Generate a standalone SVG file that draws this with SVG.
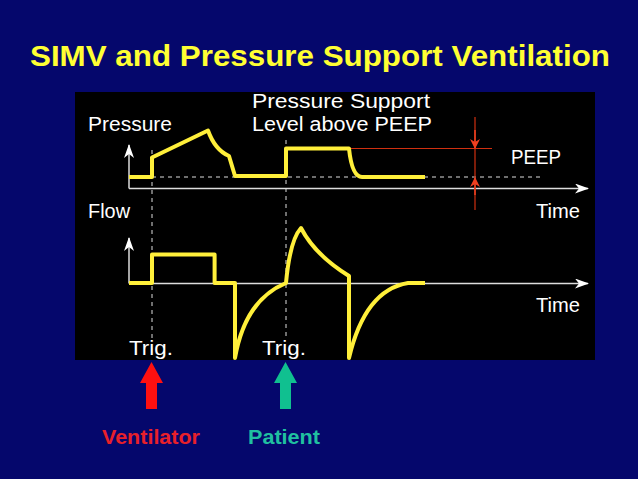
<svg xmlns="http://www.w3.org/2000/svg" width="638" height="479" viewBox="0 0 638 479">
<style>
.t{font-family:"Liberation Sans",Arial,sans-serif;fill:#fff;font-size:20px}
.tr{fill:none;stroke:#ffef3a;stroke-width:4;stroke-linejoin:round}
.ax{stroke:#ddd;stroke-width:1.5;fill:none}
.dash{stroke:#ddd;stroke-width:1;stroke-dasharray:4 4;fill:none}
.lb{font-family:"Liberation Sans",Arial,sans-serif;font-weight:bold;font-size:20px}
</style>
<defs>
<marker id="ah" markerWidth="14" markerHeight="10" refX="13" refY="5" orient="auto" markerUnits="userSpaceOnUse"><path d="M0,0 L14,5 L0,10 L4,5 Z" fill="#fff"/></marker>
<marker id="rh" markerWidth="10" markerHeight="10" refX="9" refY="5" orient="auto" markerUnits="userSpaceOnUse"><path d="M0,0 L10,5 L0,10 L3,5 Z" fill="#f04020"/></marker>
</defs>
<rect width="638" height="479" fill="#05076c"/>
<text x="30" y="66" textLength="580" lengthAdjust="spacingAndGlyphs" font-family="'Liberation Sans',Arial,sans-serif" font-weight="bold" font-size="30" fill="#ffff33">SIMV and Pressure Support Ventilation</text>
<g id="chart">
<rect x="75" y="92" width="520" height="268" fill="#000"/>
<text class="t" x="88" y="131" textLength="84" lengthAdjust="spacingAndGlyphs">Pressure</text>
<text class="t" x="252" y="108" textLength="178" lengthAdjust="spacingAndGlyphs">Pressure Support</text>
<text class="t" x="252" y="131" textLength="180" lengthAdjust="spacingAndGlyphs">Level above PEEP</text>
<text class="t" x="511" y="164" textLength="50" lengthAdjust="spacingAndGlyphs">PEEP</text>
<text class="t" x="536" y="218" textLength="44" lengthAdjust="spacingAndGlyphs">Time</text>
<text class="t" x="88" y="218" textLength="42" lengthAdjust="spacingAndGlyphs">Flow</text>
<text class="t" x="536" y="312" textLength="44" lengthAdjust="spacingAndGlyphs">Time</text>
<text class="t" x="129" y="355" textLength="44" lengthAdjust="spacingAndGlyphs">Trig.</text>
<text class="t" x="262" y="355" textLength="44" lengthAdjust="spacingAndGlyphs">Trig.</text>
</g>
<g id="connectors">
<line class="ax" x1="129" y1="188.5" x2="588" y2="188.5" marker-end="url(#ah)"/>
<line class="ax" x1="129" y1="188.5" x2="129" y2="145" marker-end="url(#ah)"/>
<line class="ax" x1="129" y1="283.5" x2="588" y2="283.5" marker-end="url(#ah)"/>
<line class="ax" x1="129" y1="283.5" x2="129" y2="238" marker-end="url(#ah)"/>
<line class="dash" x1="152" y1="177" x2="544" y2="177"/>
<line class="dash" x1="152" y1="150" x2="152" y2="340"/>
<line class="dash" x1="286" y1="140" x2="286" y2="340"/>
<line x1="349" y1="148.5" x2="492" y2="148.5" stroke="#d03010" stroke-width="1.2"/>
<line x1="475" y1="117" x2="475" y2="210" stroke="#d03010" stroke-width="1.2"/>
<line x1="475" y1="130" x2="475" y2="148" stroke="#f04020" stroke-width="1.5" marker-end="url(#rh)"/>
<line x1="475" y1="195" x2="475" y2="178" stroke="#f04020" stroke-width="1.5" marker-end="url(#rh)"/>
<path class="tr" d="M129,177 H152 V157.5 L208,130.5 Q215,150 229,156 L235,176 H286 V148.5 H349 Q352,177 362,177 H425"/>
<path class="tr" d="M129,283 H152 V254.5 H214.6 V283 H235 V358 Q245,300 286,283 Q290,240 301,228 Q315,255 349,276 V358 Q365,290 408,283 H425"/>
<path d="M146,409 V383 H140 L151.5,362 L163,383 H157 V409 Z" fill="#ff1010"/>
<path d="M280,409 V383 H274 L285.5,362 L297,383 H291 V409 Z" fill="#10c090"/>
</g>
<text class="lb" x="102" y="444" textLength="98" lengthAdjust="spacingAndGlyphs" fill="#e8202a">Ventilator</text>
<text class="lb" x="248" y="444" textLength="72" lengthAdjust="spacingAndGlyphs" fill="#20c0a0">Patient</text>
</svg>
